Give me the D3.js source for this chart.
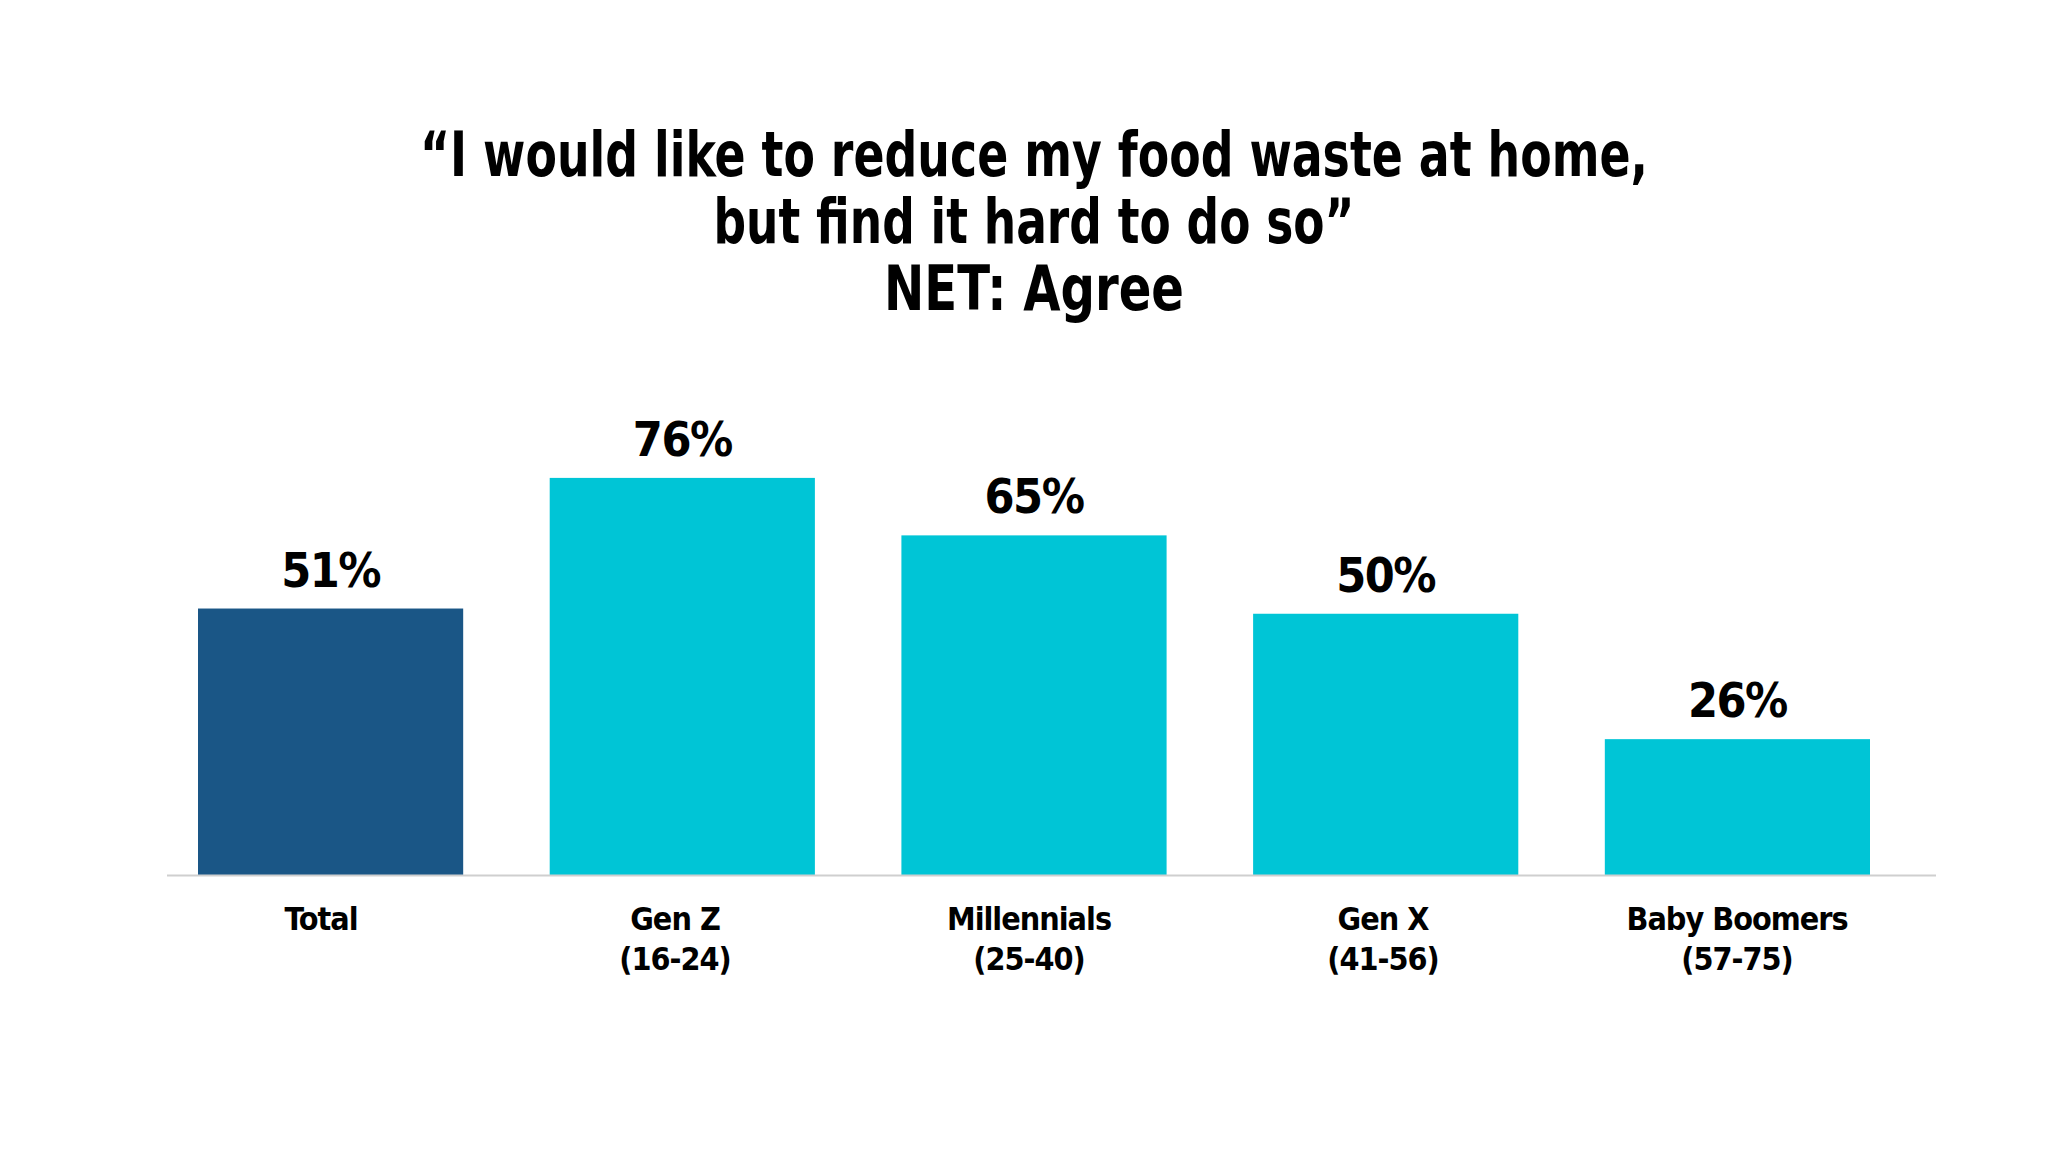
<!DOCTYPE html>
<html>
<head>
<meta charset="utf-8">
<script src="https://cdn.jsdelivr.net/npm/d3@7"></script>
<style>
  html, body { margin: 0; padding: 0; background: #fff; }
  svg { display: block; }
  text { font-family: "DejaVu Sans Condensed", "Liberation Sans Narrow", "Roboto", sans-serif; font-weight: bold; fill: #000; }
</style>
</head>
<body>
<div id="chart"></div>
<script>
// chart data
const categories = ["Total", "Gen Z", "Millennials", "Gen X", "Baby Boomers"];
const ageRanges = ["", "(16-24)", "(25-40)", "(41-56)", "(57-75)"];
const agreeValues = [51, 76, 65, 50, 26];
const titleLines = ["\u201cI would like to reduce my food waste at home,", "but find it hard to do so\u201d", "NET: Agree"];

// layout
const width = 2048, height = 1152;
const baseline = 875;
const titleWidths = [1228, 641, 300];   // squeeze title to the narrow look of the original

const svg = d3.select('#chart').append('svg')
    .attr('width', width)
    .attr('height', height);

// scales
const xScale = d3.scaleBand()
    .domain(categories)
    .range([198, 1870])
    .paddingInner(0.246)
    .paddingOuter(0);

// category labels sit on a slightly different spacing than the bars
const labelScale = d3.scalePoint()
    .domain(categories)
    .range([321, 1737]);

const yScale = d3.scaleLinear()
    .domain([0, 100])
    .range([baseline, baseline - 522.5]);

// title
svg.append('g')
    .selectAll('text')
    .data(titleLines)
    .enter()
    .append('text')
    .attr('x', 1034)
    .attr('y', (d, i) => 176 + i * 67)
    .attr('text-anchor', 'middle')
    .attr('font-size', 62)
    .attr('textLength', (d, i) => titleWidths[i])
    .attr('lengthAdjust', 'spacingAndGlyphs')
    .text(d => d);

// bars
svg.append('g')
    .selectAll('rect')
    .data(agreeValues)
    .enter()
    .append('rect')
    .attr('x', (d, i) => xScale(categories[i]))
    .attr('y', d => yScale(d))
    .attr('width', xScale.bandwidth())
    .attr('height', d => baseline - yScale(d))
    .attr('fill', (d, i) => i === 0 ? '#1a5686' : '#00c5d6');

// value labels
svg.append('g')
    .selectAll('text')
    .data(agreeValues)
    .enter()
    .append('text')
    .attr('x', (d, i) => xScale(categories[i]) + xScale.bandwidth() / 2)
    .attr('y', d => yScale(d) - 22)
    .attr('text-anchor', 'middle')
    .attr('font-size', 48)
    .attr('letter-spacing', -1.5)
    .text(d => d + '%');

// baseline axis (no ticks)
svg.append('g')
    .attr('transform', `translate(0,${baseline})`)
    .call(d3.axisBottom(xScale).tickSize(0).tickFormat(''))
    .call(g => g.select('.domain')
        .attr('d', 'M167,0.5H1936')
        .attr('stroke', '#cfcfcf')
        .attr('stroke-width', 2));

// category labels, two lines
const catLabels = svg.append('g')
    .selectAll('text')
    .data(categories)
    .enter()
    .append('text')
    .attr('text-anchor', 'middle')
    .attr('font-size', 32)
    .attr('letter-spacing', -1)
    .attr('x', d => labelScale(d));

catLabels.append('tspan')
    .attr('y', 930)
    .text(d => d);

catLabels.append('tspan')
    .attr('x', d => labelScale(d))
    .attr('y', 970)
    .text((d, i) => ageRanges[i]);
</script>
</body>
</html>
